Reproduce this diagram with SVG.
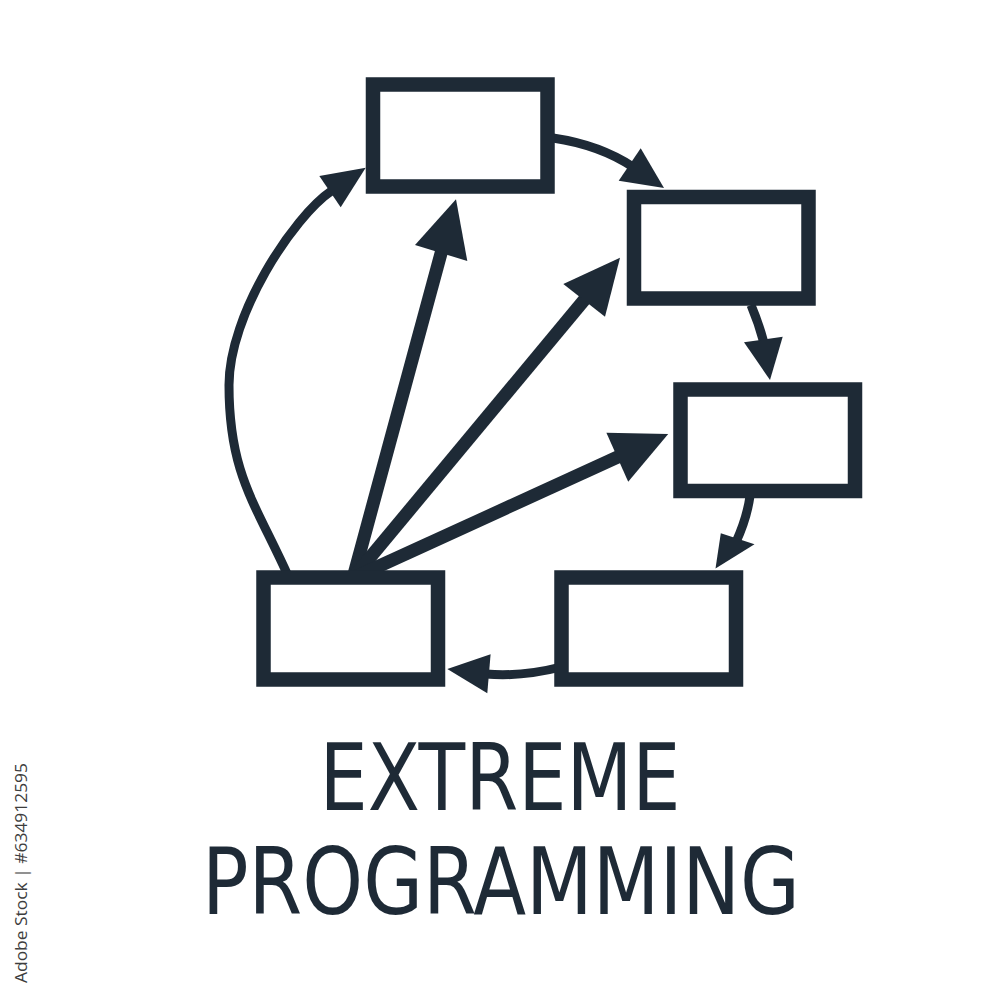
<svg xmlns="http://www.w3.org/2000/svg" width="1000" height="1000" viewBox="0 0 1000 1000">
<style>
.box{fill:#fff;stroke:#1e2a36;stroke-width:14.5}
.thin{fill:none;stroke:#1e2a36;stroke-width:9}
.thick{fill:none;stroke:#1e2a36;stroke-width:13}
.head{fill:#1e2a36}
.title{font-family:"DejaVu Sans Condensed","DejaVu Sans",sans-serif;font-size:92px;fill:#1e2a36;text-anchor:middle}
.side{font-family:"Open Sans","DejaVu Sans",sans-serif;font-size:16px;fill:#3d3d3d;text-anchor:middle}
</style>
<rect width="1000" height="1000" fill="#fff"/>
<g id="connectors">
<path class="thin" d="M553,138 Q600,145 633,167"/>
<polygon class="head" points="664,188 640.7,148.3 618.7,180.7"/>
<path class="thin" d="M751,305 Q759,324 764,343"/>
<polygon class="head" points="770,380 744,342.3 782.7,336.7"/>
<path class="thin" d="M750,496 Q747,518 736,542"/>
<polygon class="head" points="715.5,568.5 720.8,533.3 754.5,544.3"/>
<path class="thin" d="M561,667 Q522,677 486,674"/>
<polygon class="head" points="447.3,669 490.6,654.3 487.3,693.3"/>
<path class="thin" d="M289,578 C256,504 229,475 229,385 C229,315 292.6,217.2 332,190.6"/>
<polygon class="head" points="365.7,167.7 319.3,176 340.7,207.3"/>
<path class="thick" d="M353,578 L443,246"/>
<polygon class="head" points="456,199.3 415,245 467.3,261"/>
<path class="thick" d="M353,578 L587.5,296"/>
<polygon class="head" points="620,257.7 563.3,284 605,316.7"/>
<path class="thick" d="M353,578 L621,455.5"/>
<polygon class="head" points="668.2,434 606.4,432.7 628.2,481.7"/>
</g>
<g id="node-top"><rect class="box" x="373" y="84.5" width="174.5" height="102"/></g>
<g id="node-right-upper"><rect class="box" x="634" y="197" width="174.5" height="101.5"/></g>
<g id="node-right-middle"><rect class="box" x="680.5" y="389.5" width="174.5" height="101.5"/></g>
<g id="node-bottom-right"><rect class="box" x="561.5" y="577.5" width="174.5" height="102"/></g>
<g id="node-bottom-left"><rect class="box" x="263.5" y="577.5" width="174.5" height="102"/></g>
<g id="title">
<text class="title" x="500" y="810" textLength="361" lengthAdjust="spacingAndGlyphs">EXTREME</text>
<text class="title" x="501" y="914" textLength="598" lengthAdjust="spacingAndGlyphs">PROGRAMMING</text>
</g>
<text class="side" transform="translate(26.5,873) rotate(-90)" textLength="220" lengthAdjust="spacingAndGlyphs">Adobe Stock | #634912595</text>
</svg>
